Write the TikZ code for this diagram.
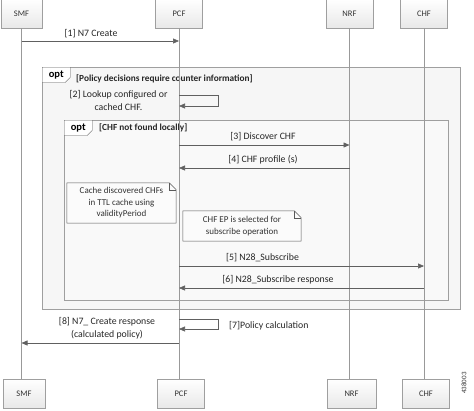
\documentclass[tikz,border=0pt]{standalone}
\usepackage{fontspec}
\setmainfont{Carlito}
\usetikzlibrary{arrows.meta,shapes.misc}

\tikzset{
  actor/.style={draw=gray!75, top color=white, bottom color=gray!18, minimum width=47pt,
    minimum height=29pt, font=\fontsize{8.5}{9}\selectfont, text=black!80},
  life/.style={draw=gray!80, line width=0.6pt},
  msg/.style={draw=gray!75!black, line width=0.6pt, -{Triangle[length=6pt,width=5pt]}},
  lbl/.style={font=\fontsize{9.8}{13}\selectfont, text=black!85, inner sep=1pt, align=center},
  frame/.style={draw=gray!75, line width=0.6pt, fill=gray!7},
  opttab/.style={chamfered rectangle, chamfered rectangle corners=south east,
    chamfered rectangle xsep=2.5pt, chamfered rectangle ysep=2.5pt, draw=gray!70!black,
    fill=white, anchor=north west, minimum width=28pt, minimum height=15pt, inner sep=1pt,
    font=\bfseries\fontsize{10.5}{11}\selectfont},
  guard/.style={anchor=west, inner sep=0pt, font=\bfseries\fontsize{9.3}{10}\selectfont, text=black!85},
  note/.style={fill=gray!3, font=\fontsize{9}{11.5}\selectfont, text=black!80, align=center}
}

% dog-eared note
\newcommand{\notebox}[1]{%
  \draw[draw=gray!70!black, line width=0.5pt] (#1.north west) -- ([xshift=-7pt]#1.north east)
    -- ([yshift=-7pt]#1.north east) -- (#1.south east) -- (#1.south west) -- cycle;
  \draw[draw=gray!70!black, line width=0.5pt] ([xshift=-7pt]#1.north east) -- ++(0,-7pt)
    -- ([yshift=-7pt]#1.north east);
}

\begin{document}
\begin{tikzpicture}[x=1pt, y=-1pt]
\useasboundingbox (0,0) rectangle (474,410);

% opt frames
\draw[frame] (42,67) coordinate (outer) rectangle (460,309);
\draw[frame, fill=gray!5] (64,120) coordinate (inner) rectangle (448,300);
\node[opttab] (optA) at (outer) {opt};
\node[opttab] (optB) at (inner) {opt};
\node[guard] (gA) at (76,79) {[Policy decisions require counter information]};
\node[guard] (gB) at (99,128) {[CHF not found locally]};

% participants
\node[actor, minimum width=41pt] (tsmf) at (21.5,13.5) {SMF};
\node[actor] (tpcf) at (179,13.5) {PCF};
\node[actor] (tnrf) at (349.5,13.5) {NRF};
\node[actor] (tchf) at (424,13.5) {CHF};
\node[actor, minimum width=42pt] (bsmf) at (24,393.5) {SMF};
\node[actor] (bpcf) at (181,393.5) {PCF};
\node[actor, minimum width=49pt] (bnrf) at (351.5,393.5) {NRF};
\node[actor] (bchf) at (426,393.5) {CHF};

\foreach \n in {smf,pcf,nrf,chf}
  \draw[life] (t\n.south) -- (t\n.south |- b\n.north);

% notes
\node[note, minimum width=109pt, minimum height=40pt] (cache) at (121.5,203)
  {Cache discovered CHFs\\in TTL cache using\\validityPeriod};
\notebox{cache}
\node[note, minimum width=118pt, minimum height=30pt] (sel) at (242,226)
  {CHF EP is selected for\\subscribe operation};
\notebox{sel}

% messages
\draw[msg] (tsmf.south |- 0,41) -- (tpcf.south |- 0,41);
\node[lbl] (l1) at (91,34) {[1] N7 Create};

\draw[msg] (tpcf.south |- 0,95) -- ++(39,0) |- (tpcf.south |- 0,106);
\node[lbl] (l2) at (118.5,100) {[2] Lookup configured or\\cached CHF.};

\draw[msg] (tpcf.south |- 0,145) -- (tnrf.south |- 0,145);
\node[lbl] (l3) at (263,137) {[3] Discover CHF};

\draw[msg] (tnrf.south |- 0,168) -- (tpcf.south |- 0,168);
\node[lbl] (l4) at (263,160) {[4] CHF profile (s)};

\draw[msg] (tpcf.south |- 0,266) -- (tchf.south |- 0,266);
\node[lbl] (l5) at (262.5,258) {[5] N28\_Subscribe};

\draw[msg] (tchf.south |- 0,288) -- (tpcf.south |- 0,288);
\node[lbl] (l6) at (278,280) {[6] N28\_Subscribe response};

\draw[msg] (tpcf.south |- 0,319) -- ++(39,0) |- (tpcf.south |- 0,329);
\node[lbl, anchor=west] (l7) at (228,326) {[7]Policy calculation};

\draw[msg] (tpcf.south |- 0,343) -- (tsmf.south |- 0,343);
\node[lbl] (l8) at (107,328) {[8] N7\_ Create response\\(calculated policy)};

\node[rotate=90, font=\fontsize{7}{7}\selectfont, text=black!80] (fig) at (464,383) {438003};
\end{tikzpicture}
\end{document}
